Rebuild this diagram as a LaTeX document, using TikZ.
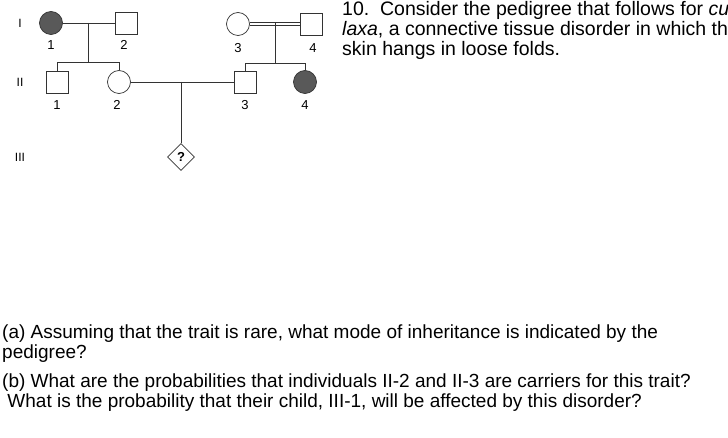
\documentclass[tikz,border=0pt]{standalone}
\usepackage{fontspec}
\setmainfont{Liberation Sans}
\usetikzlibrary{shapes.geometric}
\begin{document}
\begin{tikzpicture}[x=1pt,y=-1pt,
  ln/.style={line width=0.7pt,black!80},
  male/.style={draw=black!80,line width=0.7pt,rectangle,minimum size=22pt,inner sep=0pt},
  female/.style={draw=black!80,line width=0.7pt,circle,minimum size=23pt,inner sep=0pt},
  aff/.style={fill=black!65},
  num/.style={font=\fontsize{13}{13}\selectfont},
  gen/.style={font=\fontsize{12}{12}\selectfont},
  txt/.style={font=\fontsize{19.5}{20}\selectfont,anchor=north west,inner sep=0pt,align=left}]
\clip (0,0) rectangle (728,438);
\fill[white] (0,0) rectangle (728,438);
\node[gen] (g1) at (20,23) {I};
\node[gen] (g2) at (20,82) {II};
\node[gen] (g3) at (20,157) {III};
\node[female,aff] (a1) at (51,23) {};
\node[male] (a2) at (126,23) {};
\node[female] (a3) at (238,24) {};
\node[male] (a4) at (311,24) {};
\node[male] (b1) at (57,82) {};
\node[female] (b2) at (119,82) {};
\node[male] (b3) at (245,82) {};
\node[female,aff] (b4) at (305,82) {};
\node[diamond,draw=black!80,line width=0.7pt,minimum size=27pt,inner sep=0pt,font=\fontsize{13}{13}\selectfont\bfseries] (c1) at (181,157) {?};
\node[num] at (51,45) {1};
\node[num] at (124,45) {2};
\node[num] at (238,48) {3};
\node[num] at (313,48) {4};
\node[num] at (57,105) {1};
\node[num] at (117,105) {2};
\node[num] at (245,105) {3};
\node[num] at (305,105) {4};
\coordinate (m1) at (88,23);
\coordinate (m2) at (275,24);
\coordinate (m3) at (181,82);
\draw[ln] (a1) -- (a2);
\draw[ln] (m1) -- (88,62);
\draw[ln] (b1.north) -- (57,62) -- (119,62) -- (b2.north);
\draw[ln] ([yshift=1.5pt]a3.east) -- ([yshift=1.5pt]a4.west);
\draw[ln] ([yshift=-1.5pt]a3.east) -- ([yshift=-1.5pt]a4.west);
\draw[ln] ([yshift=1.5pt]m2) -- (275,63);
\draw[ln] (b3.north) -- (245,63) -- (305,63) -- (b4.north);
\draw[ln] (b2) -- (b3);
\draw[ln] (m3) -- (c1.north);
\node[txt] (t1) at (342,1) {10.\ \ Consider the pedigree that follows for \textit{cutis}\\\textit{laxa}, a connective tissue disorder in which the\\skin hangs in loose folds.};
\node[txt,font=\fontsize{19}{19.5}\selectfont] (t2) at (2,325) {(a) Assuming that the trait is rare, what mode of inheritance is indicated by the\\pedigree?};
\node[txt,font=\fontsize{19}{19.5}\selectfont] (t3) at (2,374) {(b) What are the probabilities that individuals II-2 and II-3 are carriers for this trait?\\\ What is the probability that their child, III-1, will be affected by this disorder?};
\end{tikzpicture}
\end{document}
